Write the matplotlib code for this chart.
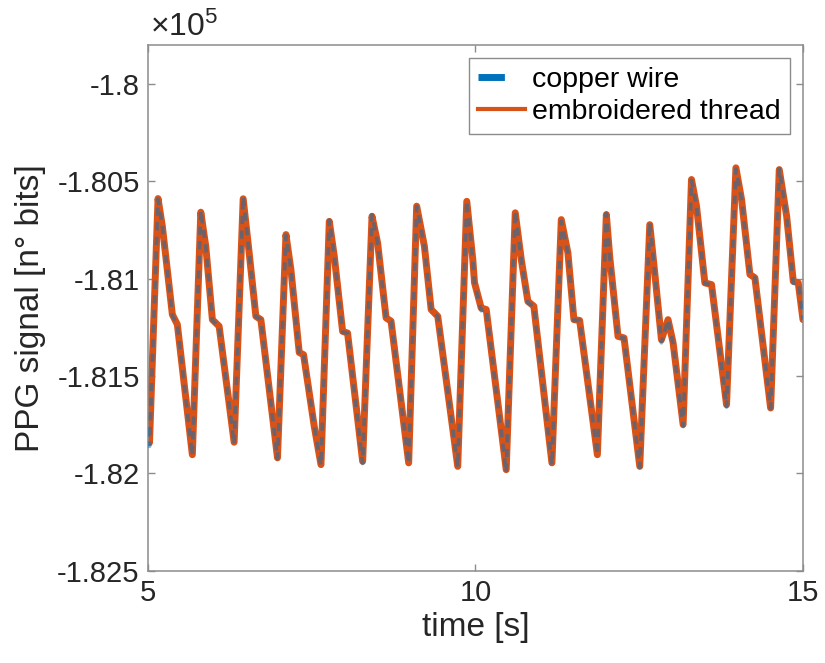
import numpy as np
import matplotlib
matplotlib.use("Agg")
import matplotlib.pyplot as plt
from matplotlib.lines import Line2D
from matplotlib.ticker import FixedLocator, FuncFormatter

plt.rcParams['font.family'] = ['Liberation Sans', 'DejaVu Sans']
plt.rcParams['mathtext.fontset'] = 'custom'
plt.rcParams['mathtext.rm'] = 'Liberation Sans'

# time samples [s] (peaks, notches, troughs)
time_s = [5.000, 5.023, 5.153, 5.219, 5.372, 5.448, 5.677, 5.806, 5.882, 5.983,
          6.086, 6.315, 6.453, 6.544, 6.647, 6.723, 6.977, 7.106, 7.182, 7.309,
          7.375, 7.538, 7.641, 7.768, 7.844, 7.971, 8.047, 8.277, 8.420, 8.506,
          8.635, 8.711, 8.980, 9.102, 9.220, 9.323, 9.424, 9.729, 9.867, 9.959,
          9.985, 10.087, 10.164, 10.469, 10.607, 10.699, 10.800, 10.891, 11.167, 11.310,
          11.411, 11.503, 11.590, 11.861, 11.998, 12.049, 12.176, 12.268, 12.508, 12.661,
          12.737, 12.839, 12.940, 13.017, 13.170, 13.298, 13.375, 13.502, 13.604, 13.833,
          13.976, 14.063, 14.190, 14.266, 14.506, 14.638, 14.751, 14.852, 14.928, 15.000]

thread = [-181760, -181843, -180589, -180731, -181185, -181236, -181905, -180659, -180834, -181211,
          -181245, -181841, -180590, -180866, -181194, -181211, -181921, -180774, -180954, -181380,
          -181391, -181759, -181956, -180706, -180885, -181271, -181280, -181939, -180680, -180817,
          -181202, -181219, -181947, -180628, -180834, -181159, -181194, -181965, -180603, -180902,
          -181021, -181151, -181159, -181982, -180662, -180902, -181117, -181142, -181947, -180697,
          -180868, -181211, -181215, -181905, -180671, -180885, -181297, -181305, -181965, -180723,
          -180971, -181314, -181211, -181330, -181750, -180491, -180628, -181022, -181031, -181648,
          -180431, -180594, -180979, -180996, -181665, -180440, -180680, -181014, -181022, -181211]

copper = [-181770, -181862, -180592, -180731, -181190, -181236, -181910, -180650, -180834, -181215,
          -181245, -181850, -180578, -180866, -181196, -181211, -181925, -180778, -180954, -181395,
          -181391, -181759, -181960, -180700, -180885, -181276, -181280, -181950, -180672, -180817,
          -181206, -181219, -181950, -180630, -180834, -181166, -181194, -181968, -180600, -180902,
          -181021, -181165, -181159, -181995, -180652, -180902, -181125, -181142, -181958, -180705,
          -180868, -181215, -181215, -181905, -180665, -180885, -181305, -181305, -181970, -180712,
          -180971, -181330, -181211, -181335, -181760, -180495, -180628, -181026, -181031, -181660,
          -180437, -180594, -180985, -180996, -181668, -180436, -180680, -181024, -181022, -181211]

yticks = [-182500, -182000, -181500, -181000, -180500, -180000]
xticks = [5, 10, 15]

blue = '#0072BD'
orange = '#D95319'
axis_grey = '#8c8c8c'
text_col = '#262626'

fig = plt.figure(figsize=(8.25, 6.63), dpi=100)
ax = fig.add_axes([0.1794, 0.1395, 0.7939, 0.7926])

ax.plot(time_s, thread, color=orange, lw=5.0, solid_joinstyle='round',
        solid_capstyle='round', zorder=2)
ax.plot(time_s, copper, color=blue, lw=2.7, alpha=0.5, dashes=(2.2, 1.7),
        dash_capstyle='butt', dash_joinstyle='round', zorder=3)

ax.set_xlim(5, 15)
ax.set_ylim(-182500, -179800)
ax.xaxis.set_major_locator(FixedLocator(xticks))
ax.yaxis.set_major_locator(FixedLocator(yticks))
ax.yaxis.set_major_formatter(FuncFormatter(lambda v, p: '%g' % (v / 1e5)))

ax.tick_params(direction='in', length=5, width=1, colors=axis_grey,
               labelcolor=text_col, labelsize=21, top=True, right=True, pad=6)
for s in ax.spines.values():
    s.set_color(axis_grey)
    s.set_linewidth(1.1)

ax.set_xlabel('time [s]', fontsize=24, color=text_col, labelpad=4)
ax.set_ylabel('PPG signal [n° bits]', fontsize=24, color=text_col, labelpad=8)

ax.text(0.003, 1.003, r'$\mathregular{\times10^5}$', transform=ax.transAxes,
        fontsize=23, color=text_col, ha='left', va='bottom')

handles = [Line2D([], [], color=blue, lw=5, dashes=(3.8, 10)),
           Line2D([], [], color=orange, lw=3)]
leg = ax.legend(handles, ['copper wire', 'embroidered thread'], loc='upper right',
                fontsize=20.5, handlelength=1.65, handletextpad=0.25, borderpad=0.32,
                labelspacing=0.2, borderaxespad=0.45, fancybox=False, framealpha=1)
leg.get_frame().set_edgecolor(axis_grey)
leg.get_frame().set_linewidth(1.0)
for txt in leg.get_texts():
    txt.set_color('black')

fig.savefig('out.png', dpi=100)
